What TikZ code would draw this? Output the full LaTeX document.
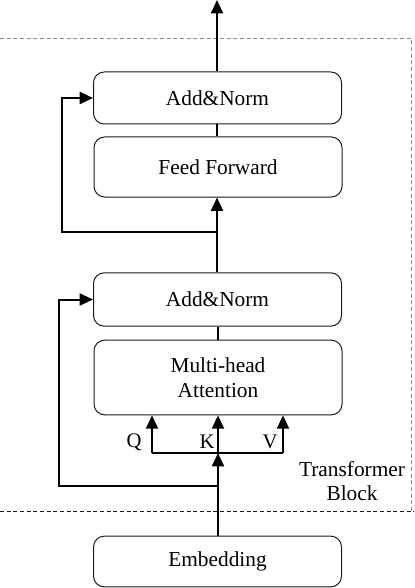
\documentclass[tikz,border=0pt]{standalone}
\usepackage{fontspec}
\setmainfont{Liberation Serif}
\usepackage{xcolor}
\usetikzlibrary{arrows.meta}
\definecolor{tdarkgray}{HTML}{1a1a1a}
\definecolor{tgray}{HTML}{8c8c8c}

\tikzset{
	layer/.style={draw=tdarkgray, line width=.75pt, rounded corners=8pt, minimum width=186pt, align=center, font=\fontsize{16}{19}\selectfont},
	flow/.style={draw=black, line width=1.5pt},
	flowarrow/.style={flow, -{Triangle[length=10pt, width=9pt]}},
	qkv/.style={font=\fontsize{15.5}{18}\selectfont}
}

\begin{document}
\begin{tikzpicture}[x=0.75pt, y=-0.75pt]
		\useasboundingbox (0,0) rectangle (414,588);
		% transformer block frame
		\draw[color=tgray, line width=.7pt, dash pattern=on 3pt off 2pt] (0,38) -- (411,38) -- (411,511);
		\draw[color=tdarkgray, line width=.7pt, dash pattern=on 3pt off 2pt] (0,511) -- (414,511);
		\node[align=center, font=\fontsize{16}{18.5}\selectfont] (block) at (352,481) {Transformer\\Block};
		% layers
		\node[layer, minimum height=39pt] (addnorm2) at (217.5,98) {Add\&Norm};
		\node[layer, minimum height=45pt] (ff) at (218,167) {Feed Forward};
		\node[layer, minimum height=40pt] (addnorm1) at (217.5,299.5) {Add\&Norm};
		\node[layer, minimum height=56pt] (mha) at (218,377.5) {Multi-head\\Attention};
		\node[layer, minimum height=38pt] (emb) at (217.5,561.5) {Embedding};
		% q k v inputs
		\coordinate (q) at (152,453);
		\coordinate (k) at (218,453);
		\coordinate (v) at (283,453);
		\node[qkv] (qlabel) at (134,442) {Q};
		\node[qkv] (klabel) at (207,442) {K};
		\node[qkv] (vlabel) at (270,442) {V};
		\coordinate (out) at (217,0);
		\coordinate (split1) at (217,232);
		\coordinate (res1) at (62,232);
		\coordinate (split0) at (218,486);
		\coordinate (res0) at (59,486);
		% connectors
		\draw[flowarrow] (addnorm2.north -| out) -- (out);
		\draw[flow] (addnorm2.south -| out) -- (ff.north -| out);
		\draw[flowarrow] (addnorm1.north -| split1) -- (ff.south -| split1);
		\draw[flowarrow] (split1) -- (res1) |- (addnorm2.west);
		\draw[flow] (addnorm1.south -| k) -- (mha.north -| k);
		\draw[flowarrow] (emb.north -| k) -- (k);
		\draw[flowarrow] (split0) -- (res0) |- (addnorm1.west);
		\draw[flow] (q) -- (v);
		\draw[flowarrow] (q) -- (mha.south -| q);
		\draw[flowarrow] (k) -- (mha.south -| k);
		\draw[flowarrow] (v) -- (mha.south -| v);
	\end{tikzpicture}
\end{document}
